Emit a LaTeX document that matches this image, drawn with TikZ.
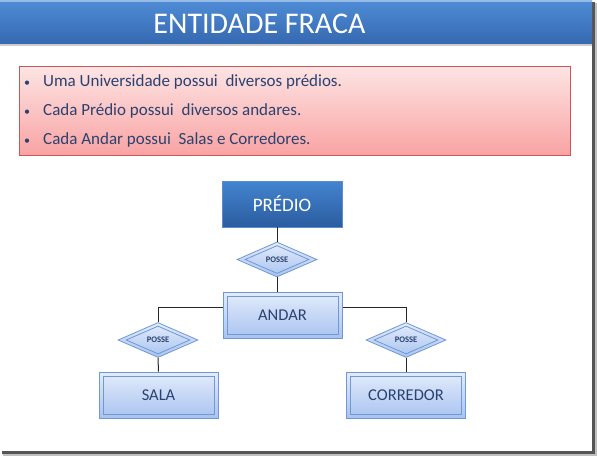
\documentclass[tikz,border=0pt]{standalone}
\usepackage{fontspec}
\setmainfont{Carlito}
\usetikzlibrary{shapes.geometric}
\definecolor{titletop}{HTML}{4F8DD6}
\definecolor{titlebot}{HTML}{3568B0}
\definecolor{txtblue}{HTML}{2A4270}
\definecolor{redtop}{HTML}{FDE4E4}
\definecolor{redbot}{HTML}{F9A3A3}
\definecolor{redline}{HTML}{C8575A}
\definecolor{strongtop}{HTML}{4384D0}
\definecolor{strongbot}{HTML}{2B5C9F}
\definecolor{strongline}{HTML}{5B8CCB}
\definecolor{weaktop}{HTML}{E3ECFB}
\definecolor{weakbot}{HTML}{A9C3F0}
\definecolor{weakline}{HTML}{6F98D6}
\definecolor{shadowc}{HTML}{555555}
\tikzset{
  strongent/.style={rectangle, minimum width=120pt, minimum height=46pt, inner sep=0pt,
    top color=strongtop, bottom color=strongbot, draw=strongline, line width=0.8pt,
    text=white, font=\fontsize{19}{22}\selectfont},
  weakent/.style={rectangle, minimum width=119pt, minimum height=46pt, inner sep=0pt,
    top color=weaktop, bottom color=weakbot, draw=weakline, line width=0.8pt,
    text=txtblue, font=\fontsize{16.5}{19}\selectfont,
    path picture={\draw[weakline, line width=0.8pt]
      ([shift={(4pt,4pt)}]path picture bounding box.south west) rectangle
      ([shift={(-4pt,-4pt)}]path picture bounding box.north east);}},
  weakrel/.style={diamond, minimum width=80pt, minimum height=35pt, aspect=2.3, inner sep=0pt,
    top color=weaktop, bottom color=weakbot, draw=weakline, line width=0.8pt,
    text=txtblue, font=\fontsize{8.5}{9}\selectfont\bfseries,
    path picture={\draw[weakline, line width=0.8pt]
      ([xshift=8pt]path picture bounding box.west) --
      ([yshift=-3.5pt]path picture bounding box.north) --
      ([xshift=-8pt]path picture bounding box.east) --
      ([yshift=3.5pt]path picture bounding box.south) -- cycle;}},
  link/.style={draw=black!85, line width=1pt},
  bullettext/.style={anchor=base west, inner sep=0pt, text=txtblue, font=\fontsize{17}{20}\selectfont},
  bulletdot/.style={anchor=base, inner sep=0pt, text=txtblue, font=\fontsize{12}{14}\selectfont}
}
\begin{document}
\begin{tikzpicture}[x=1pt,y=-1pt]
\useasboundingbox (0,0) rectangle (597,456);
\fill[white] (0,0) rectangle (597,456);
% slide shadow
\fill[shadowc] (592,2) rectangle (595,454);
\fill[shadowc] (2,451) rectangle (595,454);
\fill[black!25] (595,3) rectangle (597,456);
\fill[black!25] (3,454) rectangle (597,456);
% title bar
\fill[top color=titletop, bottom color=titlebot] (0,0) rectangle (592,44);
\fill[titletop!60!white] (0,0) rectangle (592,2);
\fill[black!20] (0,44) rectangle (592,46);
\node[text=white, font=\fontsize{30}{34}\selectfont, inner sep=0pt] (title) at (259.5,23.5) {ENTIDADE FRACA};
% red box
\node[draw=redline, line width=1pt, top color=redtop, bottom color=redbot,
      minimum width=551pt, minimum height=89pt, inner sep=0pt] (box) at (294.5,110.5) {};
\node[bulletdot] (b1) at (27,86) {•};
\node[bullettext] (t1) at (43,86) {Uma Universidade possui\ \ diversos prédios.};
\node[bulletdot] (b2) at (27,115) {•};
\node[bullettext] (t2) at (43,115) {Cada Prédio possui\ \ diversos andares.};
\node[bulletdot] (b3) at (27,144) {•};
\node[bullettext] (t3) at (43,144) {Cada Andar possui\ \ Salas e Corredores.};
% diagram
\coordinate (hl) at (158,307);
\coordinate (hr) at (406,307);
\draw[link] (hl) -- (hr);
\node[strongent] (predio) at (282,204) {PRÉDIO};
\node[weakrel] (r1) at (277,259.5) {POSSE};
\node[weakent] (andar) at (282.5,315) {ANDAR};
\node[weakrel] (r2) at (158,340) {POSSE};
\node[weakrel] (r3) at (406,340) {POSSE};
\node[weakent] (sala) at (158.5,395) {SALA};
\node[weakent] (corredor) at (406,395) {CORREDOR};
\draw[link] (predio.south -| r1.north) -- (r1.north);
\draw[link] (r1.south) -- (andar.north -| r1.south);
\draw[link] (hl) -- (r2.north);
\draw[link] (r2.south) -- (sala.north);
\draw[link] (hr) -- (r3.north);
\draw[link] (r3.south) -- (corredor.north);
% redraw andar above the line
\node[weakent] at (andar.center) {ANDAR};
\end{tikzpicture}
\end{document}
